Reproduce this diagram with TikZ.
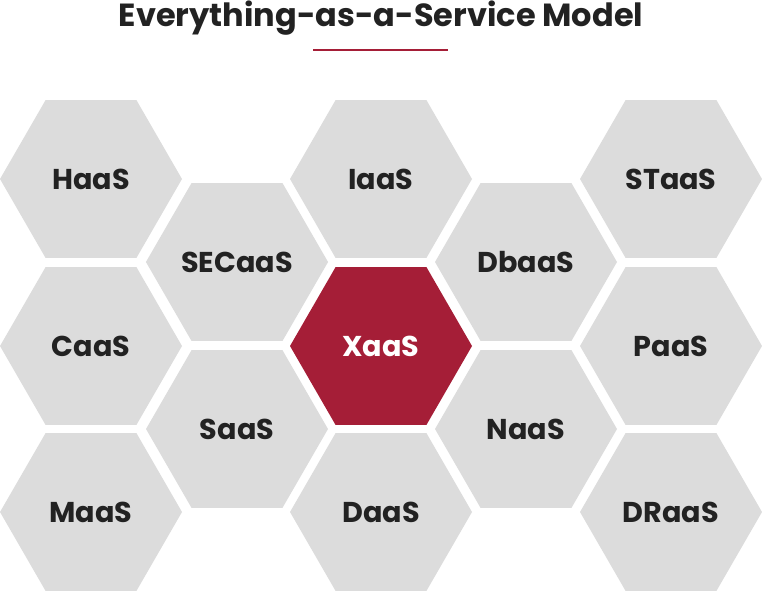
\documentclass[tikz,border=0pt]{standalone}
\usepackage{fontspec}
\setmainfont{Poppins}
\usetikzlibrary{shapes.geometric}
\definecolor{hexgrey}{HTML}{DCDCDC}
\definecolor{hexred}{HTML}{A51E37}
\definecolor{ink}{HTML}{222222}
\tikzset{
  hexbox/.style={regular polygon, regular polygon sides=6, minimum size=182*0.75pt, inner sep=0pt, fill=hexgrey, text=ink, font=\bfseries\fontsize{21.5}{25}\selectfont},
  hexhot/.style={hexbox, fill=hexred, text=white}
}
\begin{document}
\begin{tikzpicture}[x=0.75pt,y=-0.75pt]
\useasboundingbox (0,0) rectangle (762,590);
\node[text=ink] (title) at (381,18) {\bfseries\fontsize{24}{28}\selectfont Everything-as-a-Service Model};
\coordinate (ul) at (313,50); \coordinate (ur) at (448,50);
\draw[hexred, line width=2.2pt] (ul) -- (ur);
\node[hexbox] (haas) at (91,179) {HaaS};
\node[hexbox] (caas) at (91,346) {CaaS};
\node[hexbox] (maas) at (91,512) {MaaS};
\node[hexbox] (secaas) at (237,262) {SECaaS};
\node[hexbox] (saas) at (237,429) {SaaS};
\node[hexbox] (iaas) at (381,179) {IaaS};
\node[hexhot] (xaas) at (381,346) {XaaS};
\node[hexbox] (daas) at (381,512) {DaaS};
\node[hexbox] (dbaas) at (526,262) {DbaaS};
\node[hexbox] (naas) at (526,429) {NaaS};
\node[hexbox] (staas) at (671,179) {STaaS};
\node[hexbox] (paas) at (671,346) {PaaS};
\node[hexbox] (draas) at (671,512) {DRaaS};
\end{tikzpicture}
\end{document}
